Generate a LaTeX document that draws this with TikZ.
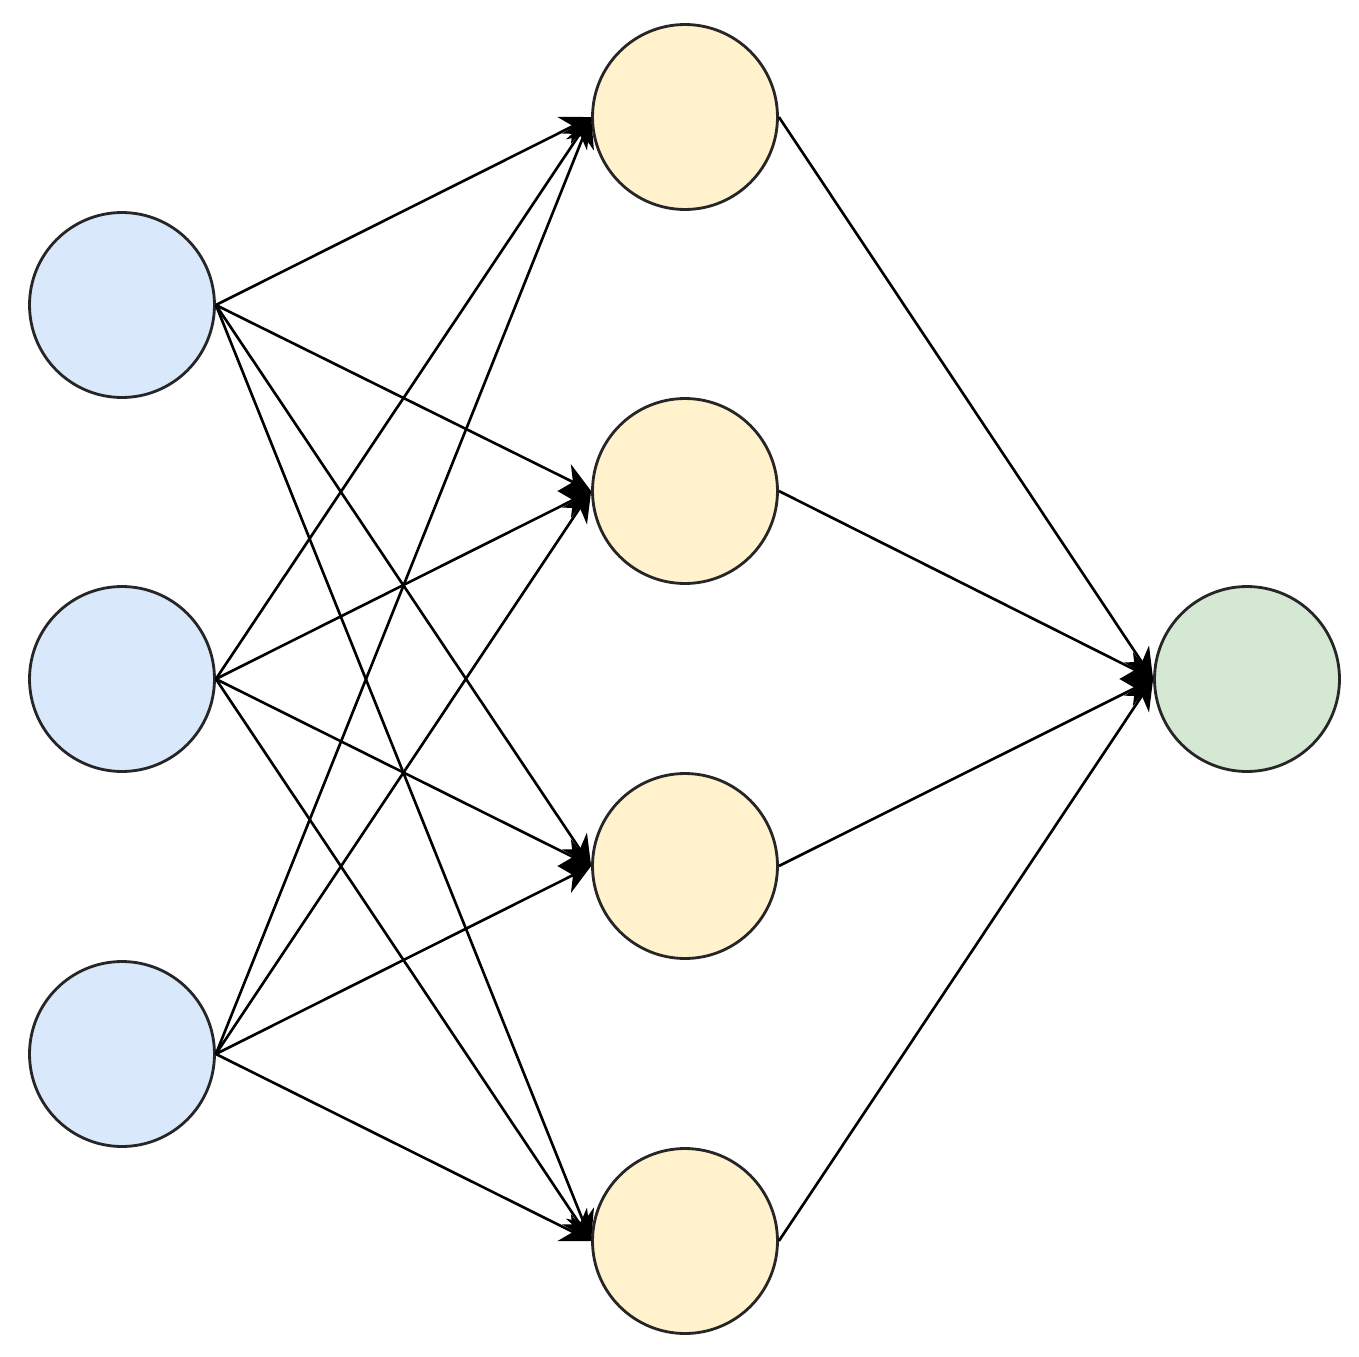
\documentclass[tikz,border=0pt]{standalone}
\usetikzlibrary{arrows.meta}
\definecolor{inblue}{HTML}{DAE8FC}
\definecolor{hidyel}{HTML}{FFF2CC}
\definecolor{outgrn}{HTML}{D5E8D4}
\begin{document}
\begin{tikzpicture}[x=0.02cm,y=-0.02cm,
  neuron/.style={circle,draw=black!85,line width=1.6pt,minimum size=3.7cm,inner sep=0pt},
  conn/.style={line width=1.5pt,-{Stealth[length=0.6cm,width=0.6cm]}}]
\useasboundingbox (0,0) rectangle (1359,1356);
\node[neuron,fill=inblue] (i1) at (122,305) {};
\node[neuron,fill=inblue] (i2) at (122,679) {};
\node[neuron,fill=inblue] (i3) at (122,1054) {};
\node[neuron,fill=hidyel] (h1) at (685,117) {};
\node[neuron,fill=hidyel] (h2) at (685,491) {};
\node[neuron,fill=hidyel] (h3) at (685,866) {};
\node[neuron,fill=hidyel] (h4) at (685,1241) {};
\node[neuron,fill=outgrn] (o) at (1247,679) {};
\foreach \i in {1,2,3}{\foreach \h in {1,2,3,4}{\draw[conn] (i\i.east) -- (h\h.west);}}
\foreach \h in {1,2,3,4}{\draw[conn] (h\h.east) -- (o.west);}
\end{tikzpicture}
\end{document}
